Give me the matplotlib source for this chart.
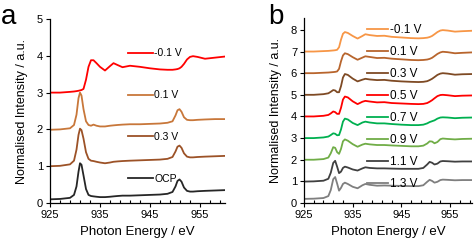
import matplotlib
matplotlib.use("Agg")
import matplotlib.pyplot as plt
from matplotlib.ticker import MultipleLocator

plt.rcParams['font.family'] = ['Liberation Sans', 'DejaVu Sans']

# panel a : shared energy grid and read-off spectra (already offset)
energy_a = [925, 927, 929, 929.8, 930.3, 930.7, 931.0, 931.3, 931.7, 932.2, 932.7, 933.2,
            933.7, 934.3, 935, 936, 937, 937.7, 938.5, 939.5, 941, 943, 945, 947, 948.5,
            949.5, 950.1, 950.5, 950.9, 951.3, 951.8, 952.4, 953, 953.6, 954.5, 956, 958, 960]

a_m01 = [3.0, 3.0, 3.02, 3.03, 3.04, 3.05, 3.06, 3.07, 3.1, 3.35, 3.7, 3.88, 3.88, 3.8, 3.7,
         3.6, 3.72, 3.8, 3.75, 3.69, 3.73, 3.7, 3.66, 3.63, 3.62, 3.62, 3.63, 3.64, 3.66,
         3.7, 3.78, 3.9, 3.97, 3.99, 3.97, 3.92, 3.95, 3.98]
a_01 = [1.99, 2.0, 2.03, 2.12, 2.4, 2.85, 3.0, 2.92, 2.55, 2.22, 2.12, 2.1, 2.13, 2.1, 2.08,
        2.08, 2.1, 2.11, 2.12, 2.13, 2.14, 2.14, 2.15, 2.16, 2.18, 2.22, 2.38, 2.52, 2.55,
        2.48, 2.33, 2.26, 2.25, 2.25, 2.26, 2.27, 2.28, 2.28]
a_03 = [1.0, 1.01, 1.05, 1.15, 1.45, 1.85, 2.02, 1.98, 1.75, 1.38, 1.2, 1.15, 1.14, 1.12,
        1.1, 1.08, 1.1, 1.12, 1.13, 1.14, 1.15, 1.16, 1.17, 1.18, 1.2, 1.25, 1.4, 1.53,
        1.56, 1.5, 1.35, 1.26, 1.24, 1.24, 1.25, 1.26, 1.27, 1.28]
a_ocp = [0.1, 0.11, 0.14, 0.22, 0.45, 0.85, 1.08, 1.04, 0.75, 0.38, 0.22, 0.19, 0.18, 0.17,
         0.16, 0.16, 0.17, 0.18, 0.19, 0.2, 0.2, 0.21, 0.22, 0.23, 0.25, 0.3, 0.45, 0.6,
         0.64, 0.58, 0.42, 0.33, 0.31, 0.31, 0.32, 0.33, 0.34, 0.35]

labels_a = ["-0.1 V", "0.1 V", "0.3 V", "OCP"]
series_a = [a_m01, a_01, a_03, a_ocp]
colors_a = ["#ff0000", "#c8773a", "#9c5227", "#262626"]

# panel b
energy_b = [925, 927, 929, 930, 930.5, 931, 931.4, 931.8, 932.2, 932.6, 933, 933.4, 934, 935,
            936, 937, 937.6, 938.5, 940, 941.5, 943, 945, 947, 948.5, 949.5, 950.3, 950.8,
            951.3, 951.8, 952.4, 953, 953.5, 954.5, 956, 957.5, 959.5]

b_m01 = [7.0, 7.0, 7.02, 7.03, 7.04, 7.05, 7.06, 7.08, 7.2, 7.55, 7.82, 7.9, 7.86, 7.72, 7.6,
         7.72, 7.8, 7.76, 7.72, 7.73, 7.68, 7.65, 7.62, 7.61, 7.62, 7.64, 7.67, 7.72, 7.8,
         7.9, 7.97, 7.99, 7.97, 7.92, 7.94, 7.96]
b_01 = [6.0, 6.0, 6.02, 6.03, 6.04, 6.05, 6.06, 6.08, 6.2, 6.55, 6.82, 6.92, 6.88, 6.74, 6.62,
        6.72, 6.78, 6.75, 6.7, 6.71, 6.67, 6.64, 6.61, 6.6, 6.61, 6.63, 6.66, 6.71, 6.79,
        6.89, 6.96, 6.99, 6.97, 6.92, 6.94, 6.96]
b_03 = [5.0, 5.0, 5.03, 5.07, 5.14, 5.22, 5.2, 5.12, 5.12, 5.4, 5.8, 5.96, 5.92, 5.75, 5.62,
        5.7, 5.74, 5.71, 5.68, 5.69, 5.65, 5.62, 5.6, 5.59, 5.6, 5.63, 5.68, 5.74, 5.82,
        5.92, 5.98, 6.0, 5.98, 5.93, 5.95, 5.96]
b_05 = [4.0, 4.0, 4.03, 4.07, 4.14, 4.23, 4.2, 4.12, 4.12, 4.4, 4.78, 4.92, 4.88, 4.7, 4.57,
        4.68, 4.72, 4.69, 4.65, 4.66, 4.62, 4.6, 4.58, 4.57, 4.58, 4.62, 4.68, 4.75, 4.84,
        4.94, 4.99, 5.0, 4.98, 4.94, 4.96, 4.97]
b_07 = [3.0, 3.0, 3.03, 3.07, 3.14, 3.22, 3.2, 3.13, 3.14, 3.4, 3.76, 3.9, 3.86, 3.7, 3.6,
        3.72, 3.76, 3.72, 3.68, 3.68, 3.65, 3.62, 3.6, 3.6, 3.62, 3.68, 3.74, 3.78, 3.82,
        3.9, 3.95, 3.96, 3.95, 3.92, 3.94, 3.95]
b_09 = [2.0, 2.0, 2.03, 2.1, 2.3, 2.58, 2.55, 2.35, 2.27, 2.5, 2.85, 2.94, 2.88, 2.72, 2.6,
        2.7, 2.74, 2.71, 2.68, 2.68, 2.66, 2.64, 2.62, 2.62, 2.65, 2.75, 2.85, 2.84, 2.76,
        2.82, 2.95, 2.98, 2.96, 2.94, 2.96, 2.97]
b_11 = [0.99, 1.0, 1.03, 1.12, 1.4, 1.85, 1.95, 1.68, 1.38, 1.45, 1.62, 1.68, 1.64, 1.55, 1.5,
        1.6, 1.65, 1.62, 1.6, 1.6, 1.59, 1.58, 1.58, 1.58, 1.62, 1.78, 1.9, 1.86, 1.78, 1.82,
        1.92, 1.94, 1.93, 1.91, 1.92, 1.92]
b_13 = [0.19, 0.2, 0.23, 0.32, 0.6, 1.1, 1.2, 0.9, 0.57, 0.7, 0.88, 0.94, 0.88, 0.75, 0.68,
        0.82, 0.88, 0.84, 0.8, 0.81, 0.8, 0.79, 0.78, 0.78, 0.82, 0.98, 1.07, 1.02, 0.94,
        0.98, 1.06, 1.08, 1.07, 1.05, 1.06, 1.06]

labels_b = ["-0.1 V", "0.1 V", "0.3 V", "0.5 V", "0.7 V", "0.9 V", "1.1 V", "1.3 V"]
series_b = [b_m01, b_01, b_03, b_05, b_07, b_09, b_11, b_13]
colors_b = ["#f79646", "#b8652d", "#7e4a24", "#ff0000", "#00b050", "#70ad47", "#404040", "#7f7f7f"]


def style_axes(ax, xmax, ymax):
    ax.set_xlim(925, xmax)
    ax.set_ylim(0, ymax)
    ax.xaxis.set_major_locator(MultipleLocator(10, offset=5))
    ax.xaxis.set_minor_locator(MultipleLocator(2, offset=1))
    ax.yaxis.set_major_locator(MultipleLocator(1))
    ax.spines['top'].set_visible(False)
    ax.spines['right'].set_visible(False)
    for s in ['left', 'bottom']:
        ax.spines[s].set_linewidth(0.9)
    ax.tick_params(axis='both', which='major', labelsize=8, length=3, width=0.8, pad=2)
    ax.tick_params(axis='x', which='minor', direction='in', length=2.5, width=0.8)
    ax.set_xlabel("Photon Energy / eV", fontsize=9.5, labelpad=4.5)
    ax.set_ylabel("Normalised Intensity / a.u.", fontsize=9, labelpad=6)


fig = plt.figure(figsize=(4.75, 2.41), dpi=100)

ax1 = fig.add_axes([50 / 475, 38 / 241, 175 / 475, 184 / 241])
for y, c, lab in zip(series_a, colors_a, labels_a):
    ax1.plot(energy_a, y, color=c, lw=1.3, label=lab)
style_axes(ax1, 960, 5)
ax1.legend(loc='upper left', bbox_to_anchor=(0.446, 0.84), frameon=False, fontsize=7.5,
           handlelength=2.4, handletextpad=0.1, labelspacing=3.05, borderpad=0,
           borderaxespad=0)

ax2 = fig.add_axes([304 / 475, 38 / 241, 168 / 475, 185 / 241])
for y, c, lab in zip(series_b, colors_b, labels_b):
    ax2.plot(energy_b, y, color=c, lw=1.3, label=lab)
style_axes(ax2, 959.5, 8.55)
ax2.legend(loc='upper left', bbox_to_anchor=(0.375, 0.965), frameon=False, fontsize=8.5,
           handlelength=1.8, handletextpad=0.15, labelspacing=0.84, borderpad=0,
           borderaxespad=0)

fig.text(0.002, 0.985, "a", fontsize=20, va='top', ha='left')
fig.text(268 / 475, 0.985, "b", fontsize=20, va='top', ha='left')

fig.savefig("out.png", dpi=100)
